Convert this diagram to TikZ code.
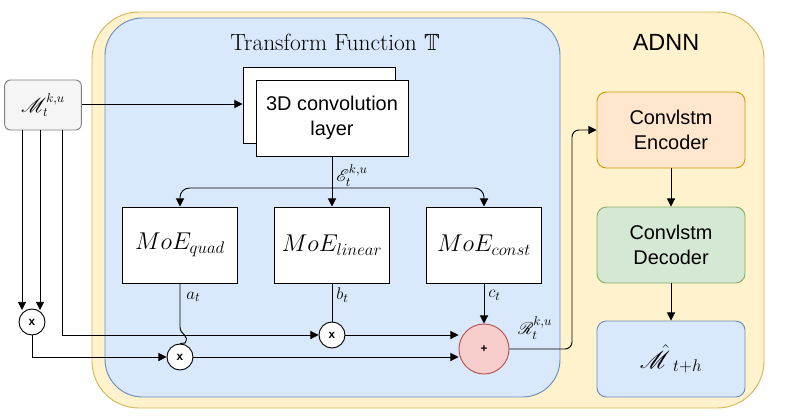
\documentclass[tikz,border=0pt]{standalone}
\usepackage{fontspec}
\usepackage{amssymb}
\usepackage{mathrsfs}
\setsansfont{Liberation Sans}
\usetikzlibrary{arrows.meta}

\definecolor{yelfill}{HTML}{FFF2CC}
\definecolor{yeldraw}{HTML}{D6B656}
\definecolor{bluefill}{HTML}{DAE8FC}
\definecolor{bluedraw}{HTML}{6C8EBF}
\definecolor{orgfill}{HTML}{FFE6CC}
\definecolor{orgdraw}{HTML}{D79B00}
\definecolor{grnfill}{HTML}{D5E8D4}
\definecolor{grndraw}{HTML}{82B366}
\definecolor{redfill}{HTML}{F8CECC}
\definecolor{reddraw}{HTML}{B85450}

\tikzset{
  box/.style={draw, fill=white, thick, minimum width=3.45cm, minimum height=2.28cm, font=\fontsize{20}{20}\selectfont},
  rbox/.style={draw, thick, rounded corners=8pt, minimum width=4.44cm, minimum height=2.28cm, align=center, font=\sffamily\fontsize{17}{21}\selectfont},
  mul/.style={draw, thick, circle, fill=white, minimum size=0.78cm, inner sep=0pt, font=\sffamily\bfseries},
  arr/.style={-{Triangle[length=7pt,width=7pt]}, thick},
  lbl/.style={font=\fontsize{15}{15}\selectfont},
}

\begin{document}
\begin{tikzpicture}[x=0.03cm, y=-0.03cm, thick]

  \useasboundingbox (0,0) rectangle (794,415);

  % containers
  \draw[yeldraw, fill=yelfill, rounded corners=40pt, thick] (92,12) rectangle (764,408);
  \draw[bluedraw, fill=bluefill, rounded corners=32pt, thick] (105,18) rectangle (560,397);

  \node[font=\fontsize{20}{20}\selectfont] (title) at (335,42) {Transform Function $\mathbb{T}$};
  \node[font=\sffamily\fontsize{20}{20}\selectfont] (adnn) at (666,42) {ADNN};

  % input
  \node[draw=gray, fill=gray!8, rounded corners=5pt, minimum width=2.3cm, minimum height=1.5cm, font=\fontsize{16}{16}\selectfont] (min) at (43,105) {$\mathscr{M}_t^{k,u}$};

  % 3D convolution
  \node[box, minimum width=4.56cm] (convb) at (319,105) {};
  \node[box, minimum width=4.56cm, align=center, font=\sffamily\fontsize{17}{21}\selectfont] (conv) at (332,118) {3D convolution\\layer};

  % experts
  \node[box] (quad) at (180,245) {$MoE_{quad}$};
  \node[box] (lin) at (332,245) {$MoE_{linear}$};
  \node[box] (const) at (484,245) {$MoE_{const}$};

  % operators
  \node[mul] (mx1) at (32,322) {x};
  \node[mul] (mx2) at (332,335) {x};
  \node[mul] (mx3) at (180,357) {x};
  \node[draw=reddraw, fill=redfill, circle, minimum size=1.5cm, inner sep=0pt, font=\sffamily\bfseries] (plus) at (484,349) {+};

  % ADNN blocks
  \node[rbox, draw=orgdraw, fill=orgfill] (enc) at (671,130) {Convlstm\\Encoder};
  \node[rbox, draw=grndraw, fill=grnfill] (dec) at (671,245) {Convlstm\\Decoder};
  \node[rbox, draw=bluedraw, fill=bluefill, font=\fontsize{20}{20}\selectfont] (out) at (671,359) {$\hat{\mathscr{M}}_{\ t+h}$};

  \coordinate (split) at (332,188);

  % connectors
  \draw[arr] (min.east |- 0,104) -- (convb.west |- 0,104);
  \draw[arr] (conv.south) -- (lin.north) node[pos=0.38, right, lbl] {$\mathscr{E}_t^{k,u}$};
  \draw[arr, rounded corners=8pt] (split) -| (quad.north);
  \draw[arr, rounded corners=8pt] (split) -| (const.north);

  \draw[arr] (min.south -| 22,0) -- (22,310);
  \draw[arr] (min.south -| 40,0) -- (40,310);
  \draw[arr] (min.south -| 62,0) |- (mx2.west);
  \draw[arr] (mx1.south) |- (mx3.west);

  \draw (quad.south) -- (180,327) .. controls (180,335) and (190,335) .. (185,343) -- (mx3.north);
  \node[lbl, right] at (182,297) {$a_t$};
  \draw (lin.south) -- (mx2.north) node[pos=0.3, right, lbl] {$b_t$};
  \draw[arr] (const.south) -- (plus.north) node[pos=0.3, right, lbl] {$c_t$};

  \draw[arr] (mx2.east) -- (plus.west |- mx2.east);
  \draw[arr] (mx3.east) -- (plus.west |- mx3.east);

  \draw[arr, rounded corners=6pt] (plus.east) -- (572,349) |- (enc.west);
  \node[lbl] at (535,328) {$\mathscr{R}_t^{k,u}$};

  \draw[arr] (enc.south) -- (dec.north);
  \draw[arr] (dec.south) -- (out.north);

\end{tikzpicture}
\end{document}
